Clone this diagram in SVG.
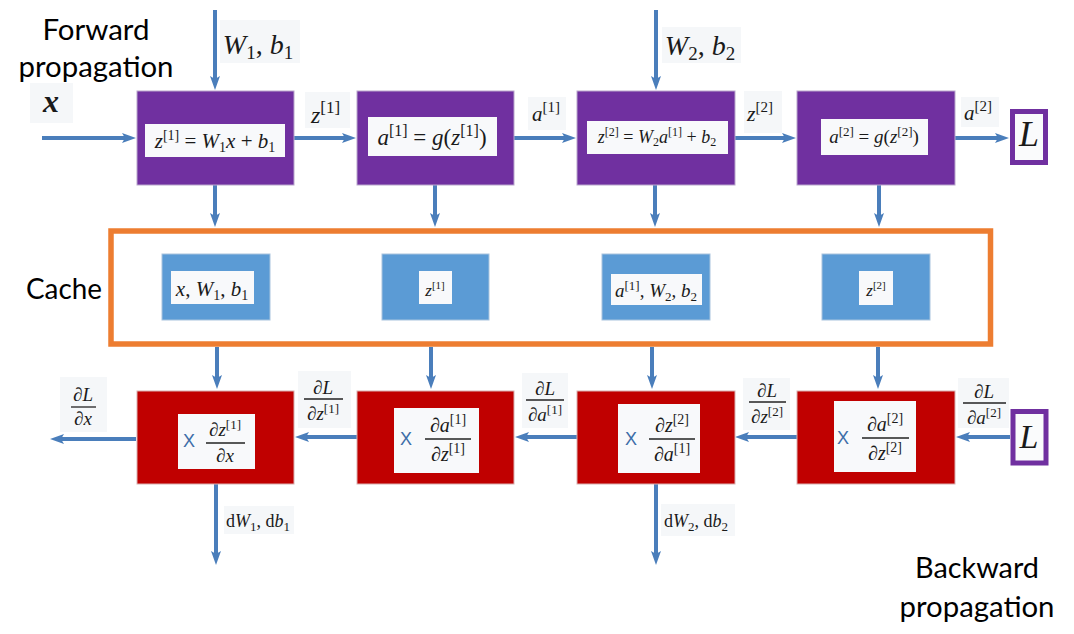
<svg xmlns="http://www.w3.org/2000/svg" width="1074" height="634" viewBox="0 0 1074 634">
<style>
.t{font-family:Lato,"Liberation Sans","DejaVu Sans",sans-serif;font-size:29px;fill:#000}
.m{font-family:"Liberation Serif","DejaVu Serif",serif;fill:#1a1a1a}
.i{font-style:italic}
.pu{fill:#7030A0;stroke:#b9a6cc;stroke-width:1}
.rd{fill:#C00000;stroke:#d8b0b0;stroke-width:1}
.bl{fill:#5B9BD5;stroke:#a9c4de;stroke-width:1}
.wh{fill:#F8F9FB}
.lb{fill:#F5F7F9}
.cx{font-family:"Liberation Sans","DejaVu Sans",sans-serif;font-size:18px;fill:#3d6da8}
.bar{stroke:#222;stroke-width:1.3}
.ar{stroke:#4A7EBB;stroke-width:4;fill:none;marker-end:url(#ah)}
</style>
<defs>
<marker id="ah" viewBox="0 0 14 10" refX="6" refY="5" markerWidth="14" markerHeight="10" markerUnits="userSpaceOnUse" orient="auto">
<path d="M0,0 L14,5 L0,10 L3,5 z" fill="#4A7EBB"/>
</marker>
</defs>
<rect width="1074" height="634" fill="#fff"/>

<g id="titles">
<text class="t" x="96" y="40" text-anchor="middle" textLength="107" lengthAdjust="spacingAndGlyphs">Forward</text>
<text class="t" x="96" y="77" text-anchor="middle" textLength="155" lengthAdjust="spacingAndGlyphs">propagation</text>
<text class="t" x="64" y="299" text-anchor="middle" textLength="76" lengthAdjust="spacingAndGlyphs">Cache</text>
<text class="t" x="977" y="578" text-anchor="middle" textLength="124" lengthAdjust="spacingAndGlyphs">Backward</text>
<text class="t" x="977" y="617" text-anchor="middle" textLength="155" lengthAdjust="spacingAndGlyphs">propagation</text>
</g>

<g id="connectors">
<path class="ar" d="M42,138 H128"/>
<path class="ar" d="M215,10 V82"/>
<path class="ar" d="M294,138 H348"/>
<path class="ar" d="M514,138 H568"/>
<path class="ar" d="M656,10 V82"/>
<path class="ar" d="M735,138 H788"/>
<path class="ar" d="M955,138 H1001"/>
<path class="ar" d="M215,185 V219"/>
<path class="ar" d="M435,185 V219"/>
<path class="ar" d="M655,185 V219"/>
<path class="ar" d="M879,185 V219"/>
<path class="ar" d="M217,347 V381"/>
<path class="ar" d="M431,347 V381"/>
<path class="ar" d="M652,347 V381"/>
<path class="ar" d="M878,347 V381"/>
<path class="ar" d="M136,439 H58"/>
<path class="ar" d="M357,437 H303"/>
<path class="ar" d="M577,437 H523"/>
<path class="ar" d="M797,437 H743"/>
<path class="ar" d="M1010,437 H964"/>
<path class="ar" d="M216,484 V557"/>
<path class="ar" d="M656,484 V557"/>
</g>

<g id="edge-labels">
<rect class="lb" x="30" y="83" width="43" height="40"/>
<text class="m i" x="51" y="112" font-size="32" font-weight="bold" text-anchor="middle">x</text>
<rect class="lb" x="220" y="20" width="80" height="43"/>
<text class="m" x="258" y="54" font-size="28" text-anchor="middle"><tspan class="i">W</tspan><tspan font-size="19" dy="5">1</tspan><tspan dy="-5">, </tspan><tspan class="i">b</tspan><tspan font-size="19" dy="5">1</tspan></text>
<rect class="lb" x="305" y="92" width="45" height="36"/>
<text class="m" x="311" y="123" font-size="24"><tspan class="i">z</tspan><tspan font-size="17" dy="-10">[1]</tspan></text>
<rect class="lb" x="528" y="97" width="38" height="33"/>
<text class="m" x="532" y="121" font-size="21"><tspan class="i">a</tspan><tspan font-size="15" dy="-9">[1]</tspan></text>
<rect class="lb" x="662" y="27" width="79" height="36"/>
<text class="m" x="700" y="55" font-size="28" text-anchor="middle"><tspan class="i">W</tspan><tspan font-size="19" dy="5">2</tspan><tspan dy="-5">, </tspan><tspan class="i">b</tspan><tspan font-size="19" dy="5">2</tspan></text>
<rect class="lb" x="744" y="91" width="38" height="42"/>
<text class="m" x="747" y="121" font-size="22"><tspan class="i">z</tspan><tspan font-size="15" dy="-9">[2]</tspan></text>
<rect class="lb" x="961" y="97" width="38" height="30"/>
<text class="m" x="964" y="120" font-size="21"><tspan class="i">a</tspan><tspan font-size="15" dy="-9">[2]</tspan></text>

<rect class="lb" x="60" y="377" width="47" height="55"/>
<text class="m" x="83" y="401" font-size="19" text-anchor="middle">∂<tspan class="i">L</tspan></text>
<line class="bar" x1="71" y1="407" x2="96" y2="407"/>
<text class="m" x="83" y="425" font-size="19" text-anchor="middle">∂<tspan class="i">x</tspan></text>

<rect class="lb" x="298" y="371" width="53" height="57"/>
<text class="m" x="323" y="394" font-size="19" text-anchor="middle">∂<tspan class="i">L</tspan></text>
<line class="bar" x1="304" y1="399" x2="343" y2="399"/>
<text class="m" x="323" y="420" font-size="19" text-anchor="middle">∂<tspan class="i">z</tspan><tspan font-size="13" dy="-7">[1]</tspan></text>

<rect class="lb" x="522" y="373" width="46" height="55"/>
<text class="m" x="545" y="395" font-size="19" text-anchor="middle">∂<tspan class="i">L</tspan></text>
<line class="bar" x1="526" y1="400" x2="564" y2="400"/>
<text class="m" x="545" y="421" font-size="19" text-anchor="middle">∂<tspan class="i">a</tspan><tspan font-size="13" dy="-7">[1]</tspan></text>

<rect class="lb" x="743" y="378" width="47" height="52"/>
<text class="m" x="767" y="397" font-size="19" text-anchor="middle">∂<tspan class="i">L</tspan></text>
<line class="bar" x1="749" y1="402" x2="786" y2="402"/>
<text class="m" x="767" y="423" font-size="19" text-anchor="middle">∂<tspan class="i">z</tspan><tspan font-size="13" dy="-7">[2]</tspan></text>

<rect class="lb" x="958" y="378" width="51" height="50"/>
<text class="m" x="984" y="398" font-size="19" text-anchor="middle">∂<tspan class="i">L</tspan></text>
<line class="bar" x1="963" y1="403" x2="1006" y2="403"/>
<text class="m" x="984" y="424" font-size="19" text-anchor="middle">∂<tspan class="i">a</tspan><tspan font-size="13" dy="-7">[2]</tspan></text>

<rect class="lb" x="224" y="506" width="70" height="28"/>
<text class="m" x="226" y="527" font-size="18">d<tspan class="i">W</tspan><tspan font-size="13" dy="4">1</tspan><tspan dy="-4">, d</tspan><tspan class="i">b</tspan><tspan font-size="13" dy="4">1</tspan></text>
<rect class="lb" x="661" y="504" width="74" height="32"/>
<text class="m" x="664" y="527" font-size="18">d<tspan class="i">W</tspan><tspan font-size="13" dy="4">2</tspan><tspan dy="-4">, d</tspan><tspan class="i">b</tspan><tspan font-size="13" dy="4">2</tspan></text>
</g>

<g id="fwd1">
<rect class="pu" x="137" y="91" width="157" height="94"/>
<rect class="wh" x="145" y="124" width="140" height="33"/>
<text class="m" x="215" y="148" font-size="21" text-anchor="middle"><tspan class="i">z</tspan><tspan font-size="14" dy="-8">[1]</tspan><tspan dy="8"> = </tspan><tspan class="i">W</tspan><tspan font-size="14" dy="4">1</tspan><tspan class="i" dy="-4">x</tspan> + <tspan class="i">b</tspan><tspan font-size="14" dy="4">1</tspan></text>
</g>
<g id="fwd2">
<rect class="pu" x="357" y="91" width="157" height="94"/>
<rect class="wh" x="368" y="117" width="129" height="39"/>
<text class="m" x="432" y="145" font-size="23" text-anchor="middle"><tspan class="i">a</tspan><tspan font-size="16" dy="-9">[1]</tspan><tspan dy="9"> = </tspan><tspan class="i">g</tspan>(<tspan class="i">z</tspan><tspan font-size="16" dy="-9">[1]</tspan><tspan dy="9">)</tspan></text>
</g>
<g id="fwd3">
<rect class="pu" x="577" y="91" width="158" height="94"/>
<rect class="wh" x="587" y="121" width="141" height="33"/>
<text class="m" x="657" y="143" font-size="18" text-anchor="middle"><tspan class="i">z</tspan><tspan font-size="12" dy="-7">[2]</tspan><tspan dy="7"> = </tspan><tspan class="i">W</tspan><tspan font-size="12" dy="3">2</tspan><tspan class="i" dy="-3">a</tspan><tspan font-size="12" dy="-7">[1]</tspan><tspan dy="7"> + </tspan><tspan class="i">b</tspan><tspan font-size="12" dy="3">2</tspan></text>
</g>
<g id="fwd4">
<rect class="pu" x="797" y="91" width="158" height="94"/>
<rect class="wh" x="821" y="119" width="107" height="36"/>
<text class="m" x="874" y="143" font-size="19" text-anchor="middle"><tspan class="i">a</tspan><tspan font-size="13" dy="-7">[2]</tspan><tspan dy="7"> = </tspan><tspan class="i">g</tspan>(<tspan class="i">z</tspan><tspan font-size="13" dy="-7">[2]</tspan><tspan dy="7">)</tspan></text>
</g>
<g id="loss-top">
<rect x="1012.5" y="111.5" width="33" height="51" fill="#FAFBFC" stroke="#7030A0" stroke-width="5"/>
<text class="m i" x="1029" y="146" font-size="36" text-anchor="middle">L</text>
</g>

<g id="cache">
<rect x="111" y="231" width="879.5" height="113" fill="none" stroke="#ED7D31" stroke-width="5.5"/>
</g>
<g id="cache1">
<rect class="bl" x="162" y="254" width="108" height="66"/>
<rect class="wh" x="171" y="271" width="83" height="33"/>
<text class="m" x="212" y="296" font-size="21" text-anchor="middle"><tspan class="i">x</tspan>, <tspan class="i">W</tspan><tspan font-size="14" dy="4">1</tspan><tspan dy="-4">, </tspan><tspan class="i">b</tspan><tspan font-size="14" dy="4">1</tspan></text>
</g>
<g id="cache2">
<rect class="bl" x="382" y="254" width="107" height="66"/>
<rect class="wh" x="419" y="271" width="33" height="33"/>
<text class="m" x="435" y="296" font-size="17" text-anchor="middle"><tspan class="i">z</tspan><tspan font-size="11" dy="-7">[1]</tspan></text>
</g>
<g id="cache3">
<rect class="bl" x="602" y="254" width="108" height="66"/>
<rect class="wh" x="611" y="274" width="91" height="31"/>
<text class="m" x="656" y="297" font-size="19" text-anchor="middle"><tspan class="i">a</tspan><tspan font-size="13" dy="-7">[1]</tspan><tspan dy="7">, </tspan><tspan class="i">W</tspan><tspan font-size="13" dy="4">2</tspan><tspan dy="-4">, </tspan><tspan class="i">b</tspan><tspan font-size="13" dy="4">2</tspan></text>
</g>
<g id="cache4">
<rect class="bl" x="822" y="254" width="108" height="66"/>
<rect class="wh" x="859" y="271" width="34" height="34"/>
<text class="m" x="876" y="296" font-size="17" text-anchor="middle"><tspan class="i">z</tspan><tspan font-size="11" dy="-7">[2]</tspan></text>
</g>

<g id="bwd1">
<rect class="rd" x="137" y="391" width="157" height="93"/>
<rect class="wh" x="178" y="414" width="77" height="55"/>
<text class="cx" x="189" y="447" text-anchor="middle">X</text>
<text class="m" x="225" y="436" font-size="19" text-anchor="middle">∂<tspan class="i">z</tspan><tspan font-size="13" dy="-7">[1]</tspan></text>
<line class="bar" x1="206" y1="443" x2="245" y2="443"/>
<text class="m" x="225" y="462" font-size="19" text-anchor="middle">∂<tspan class="i">x</tspan></text>
</g>
<g id="bwd2">
<rect class="rd" x="357" y="391" width="157" height="93"/>
<rect class="wh" x="394" y="408" width="85" height="65"/>
<text class="cx" x="406" y="445" text-anchor="middle">X</text>
<text class="m" x="448" y="432" font-size="20" text-anchor="middle">∂<tspan class="i">a</tspan><tspan font-size="14" dy="-8">[1]</tspan></text>
<line class="bar" x1="425" y1="439" x2="471" y2="439"/>
<text class="m" x="448" y="461" font-size="20" text-anchor="middle">∂<tspan class="i">z</tspan><tspan font-size="14" dy="-8">[1]</tspan></text>
</g>
<g id="bwd3">
<rect class="rd" x="577" y="391" width="158" height="93"/>
<rect class="wh" x="618" y="404" width="82" height="69"/>
<text class="cx" x="631" y="445" text-anchor="middle">X</text>
<text class="m" x="672" y="432" font-size="20" text-anchor="middle">∂<tspan class="i">z</tspan><tspan font-size="14" dy="-8">[2]</tspan></text>
<line class="bar" x1="649" y1="439" x2="695" y2="439"/>
<text class="m" x="672" y="461" font-size="20" text-anchor="middle">∂<tspan class="i">a</tspan><tspan font-size="14" dy="-8">[1]</tspan></text>
</g>
<g id="bwd4">
<rect class="rd" x="797" y="391" width="158" height="93"/>
<rect class="wh" x="834" y="401" width="82" height="71"/>
<text class="cx" x="843" y="444" text-anchor="middle">X</text>
<text class="m" x="885" y="431" font-size="20" text-anchor="middle">∂<tspan class="i">a</tspan><tspan font-size="14" dy="-8">[2]</tspan></text>
<line class="bar" x1="862" y1="438" x2="909" y2="438"/>
<text class="m" x="885" y="460" font-size="20" text-anchor="middle">∂<tspan class="i">z</tspan><tspan font-size="14" dy="-8">[2]</tspan></text>
</g>
<g id="loss-bottom">
<rect x="1013" y="411.5" width="33" height="51.5" fill="#FAFBFC" stroke="#7030A0" stroke-width="5"/>
<text class="m i" x="1029" y="448" font-size="34" text-anchor="middle">L</text>
</g>
</svg>
